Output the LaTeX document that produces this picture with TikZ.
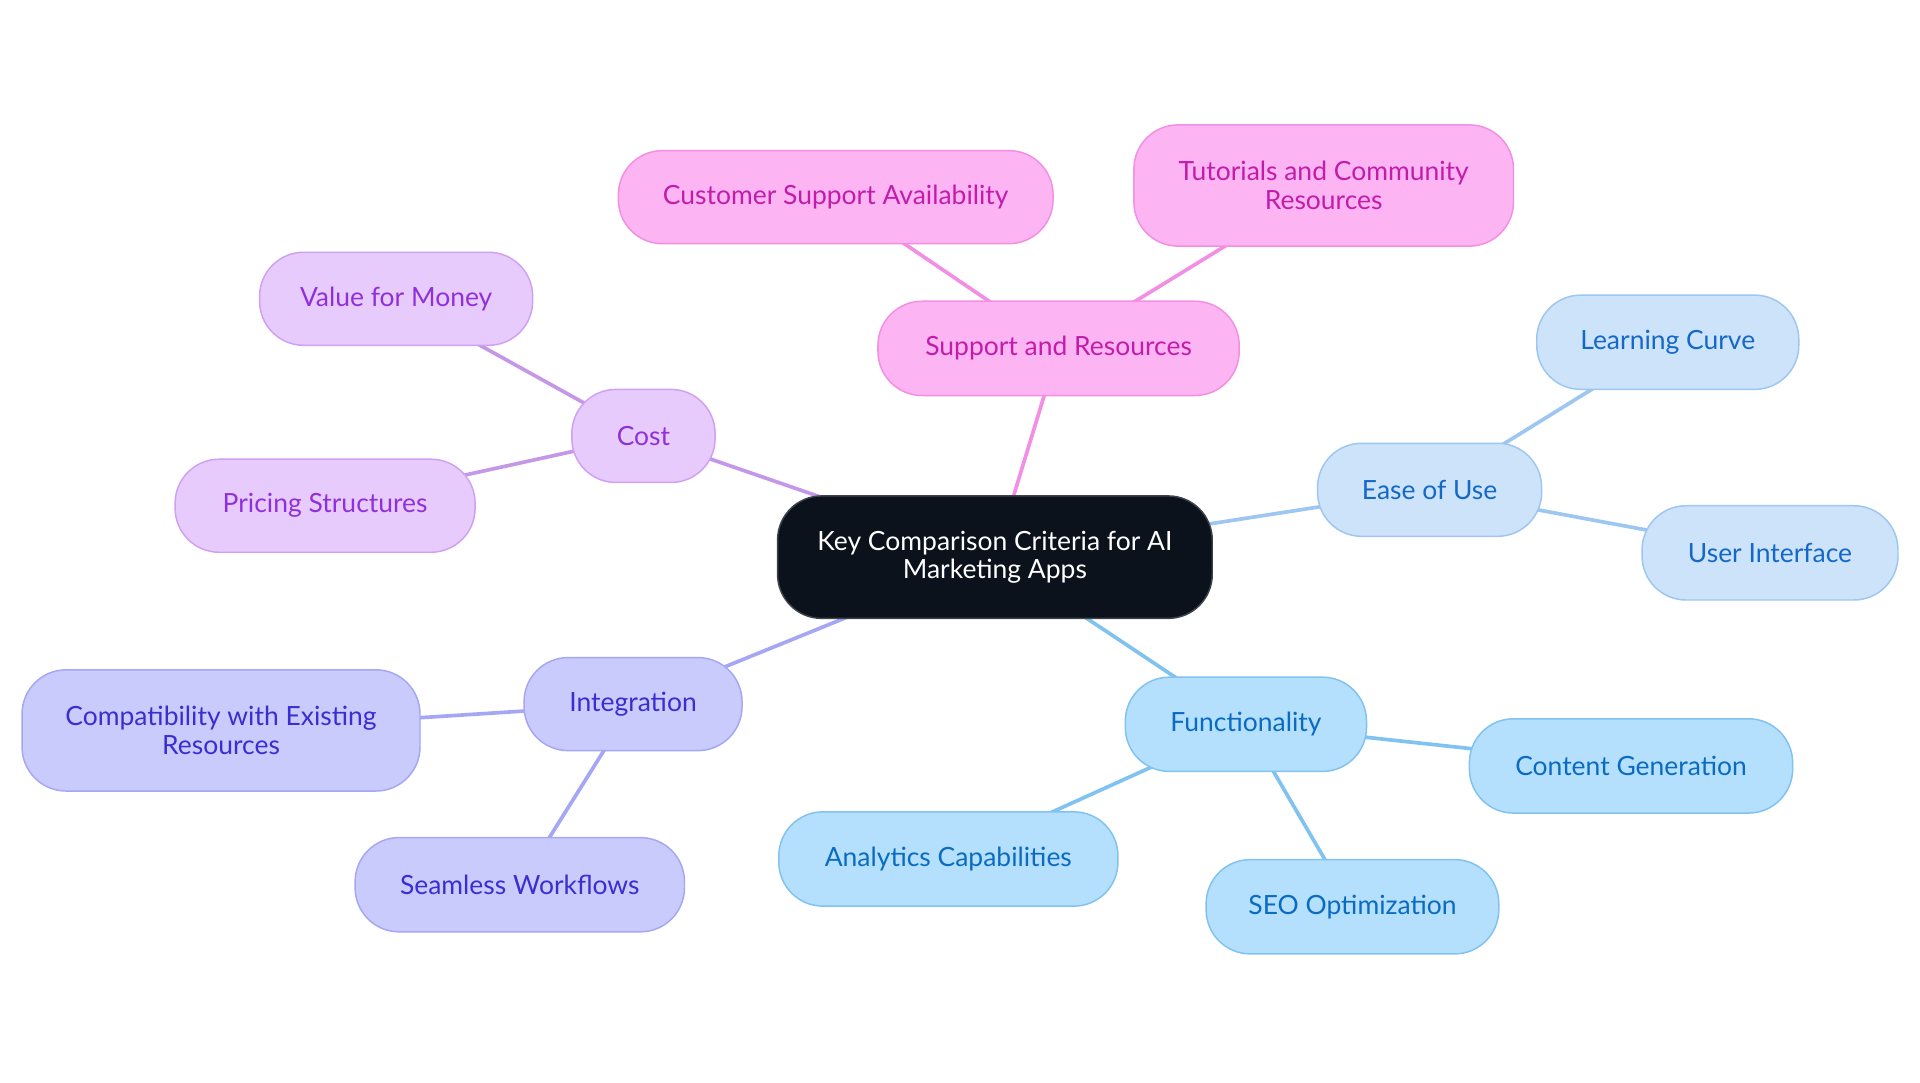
\documentclass[tikz,border=0pt]{standalone}
\usepackage{fontspec}
\setmainfont{Lato}
\usetikzlibrary{backgrounds}
\definecolor{cfill}{HTML}{0C121C}
\definecolor{cdraw}{HTML}{3D434B}
\definecolor{pfill}{HTML}{FDB4F2}
\definecolor{pdraw}{HTML}{F28EE3}
\definecolor{ptext}{HTML}{C21DAA}
\definecolor{vfill}{HTML}{E8CBFD}
\definecolor{vdraw}{HTML}{CFA0F3}
\definecolor{vtext}{HTML}{9030DA}
\definecolor{ifill}{HTML}{CACBFD}
\definecolor{idraw}{HTML}{A5A6F4}
\definecolor{itext}{HTML}{3B2ED0}
\definecolor{ffill}{HTML}{B4DFFD}
\definecolor{fdraw}{HTML}{80C2F0}
\definecolor{ftext}{HTML}{0A6BC0}
\definecolor{efill}{HTML}{CDE3FA}
\definecolor{edraw}{HTML}{9DC6F1}
\definecolor{etext}{HTML}{1468C8}
\begin{document}
\begin{tikzpicture}[x=0.5pt,y=-0.5pt,
  box/.style={rectangle, rounded corners=18pt, inner sep=0pt, align=center,
    line width=0.6pt, font=\fontsize{10.8}{11.6}\selectfont},
  sz/.style 2 args={minimum width=0.5*#1pt, minimum height=0.5*#2pt},
  root/.style={box, fill=cfill, draw=cdraw, text=white},
  pk/.style={box, fill=pfill, draw=pdraw, text=ptext},
  vi/.style={box, fill=vfill, draw=vdraw, text=vtext},
  ig/.style={box, fill=ifill, draw=idraw, text=itext},
  fu/.style={box, fill=ffill, draw=fdraw, text=ftext},
  ea/.style={box, fill=efill, draw=edraw, text=etext},
  link/.style={line width=1.5pt}]
\useasboundingbox (0,0) rectangle (1568,884);

\node[root, sz={355}{100}] (root) at (812.5,455) {Key Comparison Criteria for AI\\Marketing Apps};

\node[pk, sz={295}{77}] (sup) at (864.5,284.5) {Support and Resources};
\node[pk, sz={355}{76}] (cust) at (682.5,161) {Customer Support Availability};
\node[pk, sz={310}{99}] (tut) at (1081,151.5) {Tutorials and Community\\Resources};

\node[vi, sz={117}{76}] (cost) at (525.5,356) {Cost};
\node[vi, sz={223}{76}] (value) at (323.5,244) {Value for Money};
\node[vi, sz={245}{76}] (price) at (265.5,413) {Pricing Structures};

\node[ea, sz={183}{76}] (ease) at (1167.5,400) {Ease of Use};
\node[ea, sz={214}{77}] (learn) at (1362,279.5) {Learning Curve};
\node[ea, sz={209}{77}] (ui) at (1445.5,451.5) {User Interface};

\node[ig, sz={178}{76}] (integ) at (517,575) {Integration};
\node[ig, sz={325}{99}] (compat) at (180.5,596.5) {Compatibility with Existing\\Resources};
\node[ig, sz={269}{77}] (seam) at (424.5,722.5) {Seamless Workflows};

\node[fu, sz={197}{77}] (func) at (1017.5,591.5) {Functionality};
\node[fu, sz={264}{77}] (content) at (1332,625.5) {Content Generation};
\node[fu, sz={277}{77}] (anal) at (774.5,701.5) {Analytics Capabilities};
\node[fu, sz={239}{77}] (seo) at (1104.5,740.5) {SEO Optimization};

\begin{scope}[on background layer]
\draw[link, draw=pdraw] (root.center) -- (sup.center);
\draw[link, draw=pdraw] (sup.center) -- (cust.center);
\draw[link, draw=pdraw] (sup.center) -- (tut.center);
\draw[link, draw=vdraw!95!black] (root.center) -- (cost.center);
\draw[link, draw=vdraw!95!black] (cost.center) -- (value.center);
\draw[link, draw=vdraw!95!black] (cost.center) -- (price.center);
\draw[link, draw=edraw] (root.center) -- (ease.center);
\draw[link, draw=edraw] (ease.center) -- (learn.center);
\draw[link, draw=edraw] (ease.center) -- (ui.center);
\draw[link, draw=idraw] (root.center) -- (integ.center);
\draw[link, draw=idraw] (integ.center) -- (compat.center);
\draw[link, draw=idraw] (integ.center) -- (seam.center);
\draw[link, draw=fdraw] (root.center) -- (func.center);
\draw[link, draw=fdraw] (func.center) -- (content.center);
\draw[link, draw=fdraw] (func.center) -- (anal.center);
\draw[link, draw=fdraw] (func.center) -- (seo.center);
\end{scope}
\end{tikzpicture}
\end{document}
